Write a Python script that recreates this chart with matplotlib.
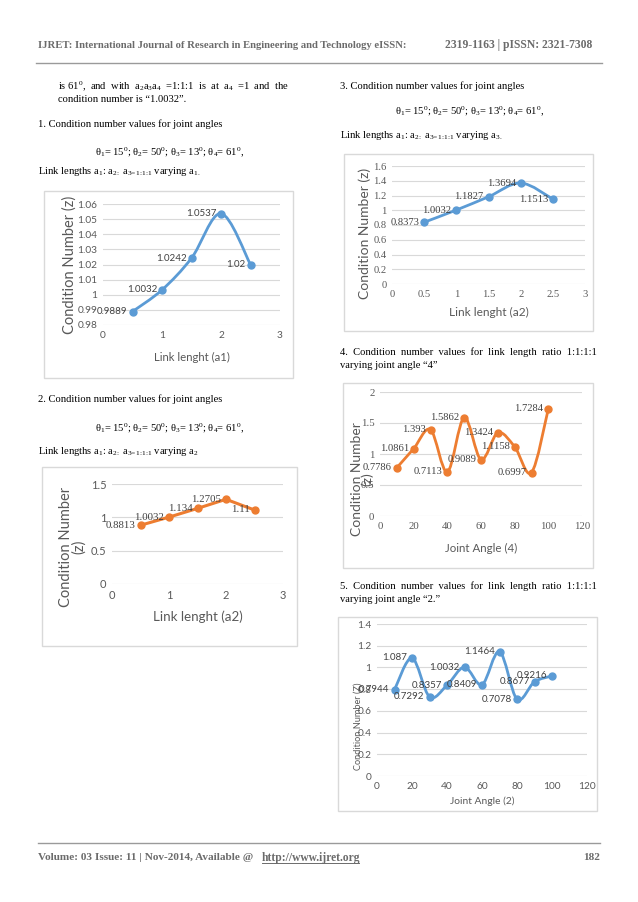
import matplotlib
matplotlib.use("Agg")
import matplotlib.pyplot as plt
import numpy as np
from matplotlib.path import Path
from matplotlib.patches import PathPatch, Rectangle

# data
a_vals = [0.5, 1, 1.5, 2, 2.5]
cn_a1 = [0.9889, 1.0032, 1.0242, 1.0537, 1.02]
cn_a2 = [0.8813, 1.0032, 1.134, 1.2705, 1.11]
cn_a3 = [0.8373, 1.0032, 1.1827, 1.3694, 1.1513]
angles = [10, 20, 30, 40, 50, 60, 70, 80, 90, 100]
cn_t4 = [0.7786, 1.0861, 1.393, 0.7113, 1.5862, 0.9089, 1.3424, 1.1158, 0.6997, 1.7284]
cn_t2 = [0.7944, 1.087, 0.7292, 0.8357, 1.0032, 0.8409, 1.1464, 0.7078, 0.8677, 0.9216]

W, H = 638, 902
BLUE = "#5B9BD5"
ORANGE = "#ED7D31"
GRAY = "#595959"
SANS = ["Lato", "DejaVu Sans"]
SERIF = ["Liberation Serif", "DejaVu Serif"]

plt.rcParams["mathtext.fontset"] = "custom"
plt.rcParams["mathtext.rm"] = "Liberation Serif"
plt.rcParams["mathtext.it"] = "Liberation Serif"
plt.rcParams["mathtext.default"] = "rm"

fig = plt.figure(figsize=(W / 100, H / 100), dpi=100)
fig.patch.set_facecolor("white")


def ptext(x, y, s, **kw):
    # x, y in pixels from top-left
    kw.setdefault("family", SERIF)
    kw.setdefault("fontsize", 7.6)
    kw.setdefault("va", "center")
    fig.text(x / W, 1 - y / H, s, **kw)


def hline(x0, x1, y, color="#9a9a9a", lw=1.0):
    fig.add_artist(plt.Line2D([x0 / W, x1 / W], [1 - y / H, 1 - y / H],
                              color=color, lw=lw, transform=fig.transFigure))


def frame(x0, y0, x1, y1):
    fig.add_artist(Rectangle((x0 / W, 1 - y1 / H), (x1 - x0) / W, (y1 - y0) / H,
                             transform=fig.transFigure, fill=False,
                             ec="#D9D9D9", lw=1.0))


def make_axes(x0, x1, ytop, ybot, xticks, yticks, tick_font, tick_size):
    ax = fig.add_axes([x0 / W, 1 - ybot / H, (x1 - x0) / W, (ybot - ytop) / H])
    ax.set_facecolor("none")
    for s in ax.spines.values():
        s.set_visible(False)
    ax.set_xlim(xticks[0], xticks[-1])
    ax.set_ylim(yticks[0], yticks[-1])
    ax.set_xticks(xticks)
    ax.set_yticks(yticks)
    ax.set_xticklabels([f"{v:g}" for v in xticks], family=tick_font, fontsize=tick_size)
    ax.set_yticklabels([f"{v:g}" for v in yticks], family=tick_font, fontsize=tick_size)
    ax.tick_params(length=0, colors=GRAY, pad=4)
    ax.grid(axis="y", color="#D9D9D9", lw=0.8)
    ax.set_axisbelow(True)
    return ax


def smooth_line(ax, xs, ys, color):
    # Excel style smoothed line drawn as cubic bezier segments
    xs = np.asarray(xs, float)
    ys = np.asarray(ys, float)
    n = len(xs)
    verts = [(xs[0], ys[0])]
    codes = [Path.MOVETO]
    for i in range(n - 1):
        p0 = i - 1 if i > 0 else 0
        p3 = i + 2 if i + 2 < n else n - 1
        c1 = (xs[i] + (xs[i + 1] - xs[p0]) / 6, ys[i] + (ys[i + 1] - ys[p0]) / 6)
        c2 = (xs[i + 1] - (xs[p3] - xs[i]) / 6, ys[i + 1] - (ys[p3] - ys[i]) / 6)
        verts += [c1, c2, (xs[i + 1], ys[i + 1])]
        codes += [Path.CURVE4] * 3
    ax.add_patch(PathPatch(Path(verts, codes), fc="none", ec=color, lw=2.0,
                           capstyle="round", joinstyle="round", zorder=3))


def labels(ax, xs, ys, font, size, color="#404040"):
    # data labels on the left of each point
    for x, y in zip(xs, ys):
        ax.annotate(f"{y:g}", (x, y), xytext=(-3.5, 0), textcoords="offset points",
                    ha="right", va="center", fontsize=size, color=color,
                    family=font, zorder=4)


# ---------- header / footer ----------
HDR = "#6b6b6b"
ptext(38, 45, "IJRET: International Journal of Research in Engineering and Technology eISSN:",
      weight="bold", color=HDR, fontsize=7.7)
ptext(592, 45, "2319-1163 | pISSN: 2321-7308", weight="bold", color=HDR,
      fontsize=8.4, ha="right")
hline(36, 602, 63)
hline(38, 600, 843)
ptext(38, 858, "Volume: 03 Issue: 11 | Nov-2014, Available @", weight="bold",
      color=HDR, fontsize=8.1)
ptext(262, 858, "http://www.ijret.org", weight="bold", color=HDR, fontsize=8.3)
hline(262, 359, 863, color=HDR, lw=0.7)
ptext(600, 858, "182", weight="bold", color=HDR, fontsize=8.1, ha="right")

theta = r"θ$_1$= 15$^0$; θ$_2$= 50$^0$; θ$_3$= 13$^0$; θ$_4$= 61$^0$,"
ratio = r"a$_{3\!=\!1\!:\!1\!:\!1}$"

# ---------- left column text ----------
ptext(58, 86, r"is 61$^0$,  and  with  a$_2$a$_3$a$_4$  =1:1:1  is  at  a$_4$  =1  and  the")
ptext(58, 100, "condition number is “1.0032”.")
ptext(38, 124, "1. Condition number values for joint angles")
ptext(95, 152, theta)
ptext(38, 172, r"Link lengths a$_1$: a$_{2\!:}$ " + ratio + r" varying a$_{1.}$")

ptext(38, 399, "2. Condition number values for joint angles")
ptext(95, 428, theta)
ptext(38, 452, r"Link lengths a$_1$: a$_{2\!:}$ " + ratio + r" varying a$_2$")

# ---------- right column text ----------
ptext(340, 86, "3. Condition number values for joint angles")
ptext(395, 111, theta)
ptext(340, 135, r"Link lengths a$_1$: a$_{2\!:}$ " + ratio + r" varying a$_{3.}$")
ptext(340, 352, "4.  Condition  number  values  for  link  length  ratio  1:1:1:1")
ptext(340, 366, "varying joint angle “4”")
ptext(340, 586, "5.  Condition  number  values  for  link  length  ratio  1:1:1:1")
ptext(340, 600, "varying joint angle “2.”")

# ---------- chart 1 ----------
frame(44, 191, 293, 378)
ax1 = make_axes(103, 280, 204, 325, [0, 1, 2, 3],
                list(np.round(np.arange(0.98, 1.0601, 0.01), 2)), SANS, 7.3)
smooth_line(ax1, a_vals, cn_a1, BLUE)
ax1.plot(a_vals, cn_a1, "o", color=BLUE, ms=5, zorder=4)
labels(ax1, a_vals, cn_a1, SANS, 7)
ax1.set_ylabel("Condition Number (z)", fontsize=10.5, color=GRAY, family=SANS)
ax1.yaxis.set_label_coords(-0.15, 0.5)
ax1.set_xlabel("Link lenght (a1)", fontsize=8.2, color=GRAY, family=SANS, labelpad=9)

# ---------- chart 2 ----------
frame(42, 467, 297, 646)
ax2 = make_axes(112, 283, 484, 584, [0, 1, 2, 3], [0, 0.5, 1, 1.5], SANS, 8)
ax2.plot(a_vals, cn_a2, "-o", color=ORANGE, lw=2.2, ms=5, zorder=4)
labels(ax2, a_vals, cn_a2, SERIF, 7.8)
ax2.set_ylabel("Condition Number\n(z)", fontsize=10.5, color=GRAY, family=SANS,
               linespacing=0.95)
ax2.yaxis.set_label_coords(-0.15, 0.37)
ax2.set_xlabel("Link lenght (a2)", fontsize=9.6, color=GRAY, family=SANS, labelpad=7)

# ---------- chart 3 ----------
frame(344, 154, 593, 331)
ax3 = make_axes(392, 585, 166, 284, list(np.arange(0, 3.01, 0.5)),
                list(np.round(np.arange(0, 1.601, 0.2), 1)), SERIF, 7.6)
smooth_line(ax3, a_vals, cn_a3, BLUE)
ax3.plot(a_vals, cn_a3, "o", color=BLUE, ms=5, zorder=4)
labels(ax3, a_vals, cn_a3, SERIF, 7.6)
ax3.set_ylabel("Condition Number (z)", fontsize=10, color=GRAY, family=SANS)
ax3.yaxis.set_label_coords(-0.11, 0.43)
ax3.set_xlabel("Link lenght (a2)", fontsize=8.6, color=GRAY, family=SANS, labelpad=6)

# ---------- chart 4 ----------
frame(343, 383, 593, 568)
ax4 = make_axes(380, 582, 392, 516, list(range(0, 121, 20)), [0, 0.5, 1, 1.5, 2],
                SERIF, 7.8)
smooth_line(ax4, angles, cn_t4, ORANGE)
ax4.plot(angles, cn_t4, "o", color=ORANGE, ms=5, zorder=4)
labels(ax4, angles, cn_t4, SERIF, 7.6)
ax4.set_ylabel("Condition Number\n(z)", fontsize=10, color=GRAY, family=SANS,
               linespacing=0.75)
ax4.yaxis.set_label_coords(-0.035, 0.3)
ax4.set_xlabel("Joint Angle (4)", fontsize=8.3, color=GRAY, family=SANS, labelpad=9)

# ---------- chart 5 ----------
frame(338, 617, 597, 811)
ax5 = make_axes(377, 587, 624, 776, list(range(0, 121, 20)),
                list(np.round(np.arange(0, 1.401, 0.2), 1)), SANS, 7.3)
smooth_line(ax5, angles, cn_t2, BLUE)
ax5.plot(angles, cn_t2, "o", color=BLUE, ms=5, zorder=4)
labels(ax5, angles, cn_t2, SANS, 7)
ax5.set_ylabel("Condition Number (Z)", fontsize=6.6, color=GRAY, family=SANS)
ax5.yaxis.set_label_coords(-0.07, 0.33)
ax5.set_xlabel("Joint Angle (2)", fontsize=7.4, color=GRAY, family=SANS, labelpad=4)

fig.savefig("out.png", dpi=100, facecolor="white")
